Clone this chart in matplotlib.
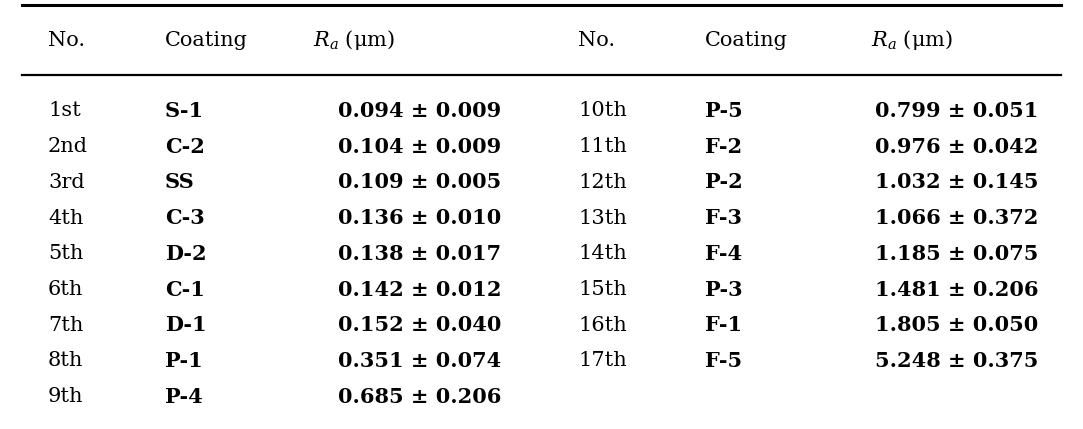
import matplotlib

matplotlib.use("Agg")
import matplotlib.pyplot as plt

ranks_left = ["1st", "2nd", "3rd", "4th", "5th", "6th", "7th", "8th", "9th"]
coatings_left = ["S-1", "C-2", "SS", "C-3", "D-2", "C-1", "D-1", "P-1", "P-4"]
ra_left = ["0.094", "0.104", "0.109", "0.136", "0.138", "0.142", "0.152", "0.351", "0.685"]
sd_left = ["0.009", "0.009", "0.005", "0.010", "0.017", "0.012", "0.040", "0.074", "0.206"]

ranks_right = ["10th", "11th", "12th", "13th", "14th", "15th", "16th", "17th"]
coatings_right = ["P-5", "F-2", "P-2", "F-3", "F-4", "P-3", "F-1", "F-5"]
ra_right = ["0.799", "0.976", "1.032", "1.066", "1.185", "1.481", "1.805", "5.248"]
sd_right = ["0.051", "0.042", "0.145", "0.372", "0.075", "0.206", "0.050", "0.375"]

plt.rcParams["font.family"] = ["DejaVu Serif"]
plt.rcParams["mathtext.fontset"] = "dejavuserif"

W, H = 1083, 429
fig = plt.figure(figsize=(W / 100, H / 100), dpi=100)
fig.patch.set_facecolor("white")
fs = 15


def fx(px):
    return px / W


def fy(py):
    return 1 - py / H


# rules
fig.add_artist(plt.Line2D([fx(22), fx(1061)], [fy(5), fy(5)], color="black", lw=2.2))
fig.add_artist(plt.Line2D([fx(22), fx(1061)], [fy(75), fy(75)], color="black", lw=1.6))

# header
for x, label in [(48, "No."), (165, "Coating"), (313, "$R_a$ (μm)"),
                 (578, "No."), (705, "Coating"), (871, "$R_a$ (μm)")]:
    fig.text(fx(x), fy(40), label, fontsize=fs, ha="left", va="center")


def draw_block(ranks, coats, ras, sds, x_no, x_coat, x_val):
    for i, (r, c, a, s) in enumerate(zip(ranks, coats, ras, sds)):
        y = fy(111 + i * 35.7)
        fig.text(fx(x_no), y, r, fontsize=fs, ha="left", va="center")
        fig.text(fx(x_coat), y, c, fontsize=fs, ha="left", va="center", fontweight="bold")
        fig.text(fx(x_val), y, f"{a} ± {s}", fontsize=fs, ha="center", va="center",
                 fontweight="bold")


draw_block(ranks_left, coatings_left, ra_left, sd_left, 48, 165, 420)
draw_block(ranks_right, coatings_right, ra_right, sd_right, 578, 705, 957)

fig.savefig("out.png", dpi=100)
